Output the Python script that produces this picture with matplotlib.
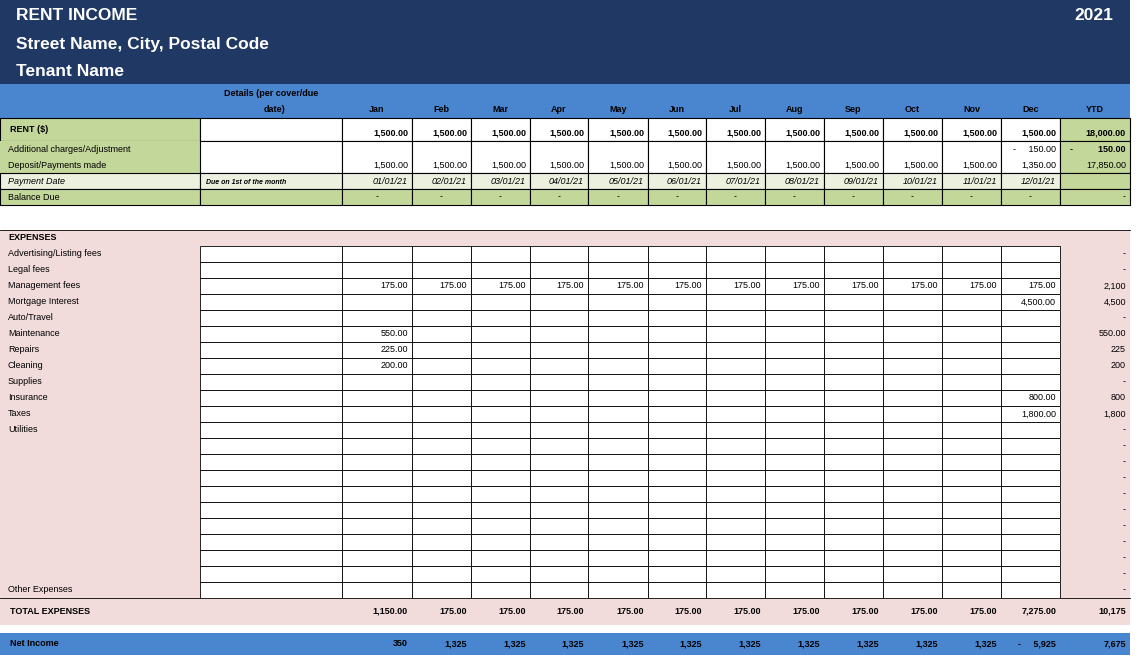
import matplotlib.pyplot as plt
from matplotlib.patches import Rectangle

plt.rcParams['font.family'] = ['Liberation Sans', 'DejaVu Sans']

months = ['Jan', 'Feb', 'Mar', 'Apr', 'May', 'Jun', 'Jul', 'Aug', 'Sep', 'Oct', 'Nov', 'Dec']
rent = ['1,500.00'] * 12
rent_ytd = '18,000.00'
adjust = [''] * 11 + ['-     150.00']
adjust_ytd = '-          150.00'
payments = ['1,500.00'] * 11 + ['1,350.00']
payments_ytd = '17,850.00'
pay_dates = ['%02d/01/21' % (i + 1) for i in range(12)]

exp_labels = ['Advertising/Listing fees', 'Legal fees', 'Management fees', 'Mortgage Interest',
              'Auto/Travel', 'Maintenance', 'Repairs', 'Cleaning', 'Supplies', 'Insurance',
              'Taxes', 'Utilities'] + [''] * 9 + ['Other Expenses']
# values per expense row: (month index, text)
exp_values = {
    'Management fees': {i: '175.00' for i in range(12)},
    'Mortgage Interest': {11: '4,500.00'},
    'Maintenance': {0: '550.00'},
    'Repairs': {0: '225.00'},
    'Cleaning': {0: '200.00'},
    'Insurance': {11: '800.00'},
    'Taxes': {11: '1,800.00'},
}
exp_ytd = ['-', '-', '2,100', '4,500', '-', '550.00', '225', '200', '-', '800', '1,800'] + ['-'] * 11
total_exp = ['1,150.00'] + ['175.00'] * 10 + ['7,275.00']
total_ytd = '10,175'
net_income = ['350'] + ['1,325'] * 10 + ['-     5,925']
net_ytd = '7,675'

NAVY = '#1f3864'
BLUE = '#4a86d0'
GREEN = '#c4d79b'
LGREEN = '#ebf1de'
PINK = '#f2dcdb'

edges = [0, 200, 342, 412, 471, 530, 588, 648, 706, 765, 824, 883, 942, 1001, 1060, 1130]

fig = plt.figure(figsize=(11.4, 6.57), dpi=100)
ax = fig.add_axes([0, 0, 1, 1])
ax.set_xlim(0, 1140)
ax.set_ylim(657, 0)
ax.axis('off')


def box(x0, x1, y0, y1, fc, ec='none', lw=0.8):
    ax.add_patch(Rectangle((x0, y0), x1 - x0, y1 - y0, facecolor=fc, edgecolor=ec, lw=lw))


def rtext(col, y, s, **kw):
    # col 1..12 = months, 13 = YTD
    ax.text(edges[col + 2] - 4, y, s, ha='right', va='center', fontsize=6.5, **kw)


# title block
box(0, 1130, 0, 84, NAVY)
for y, s in zip([16, 44, 72], ['RENT INCOME', 'Street Name, City, Postal Code', 'Tenant Name']):
    ax.text(16, y, s, color='white', fontsize=12.5, fontweight='bold', va='center')
ax.text(1113, 16, '2021', color='white', fontsize=12.5, fontweight='bold', va='center', ha='right')

# month header
box(0, 1130, 84, 118, BLUE)
ax.text(271, 93, 'Details (per cover/due', fontsize=6.5, fontweight='bold', ha='center', va='center')
ax.text(285, 109, 'date)', fontsize=6.5, fontweight='bold', ha='right', va='center')
for i, m in enumerate(months + ['YTD']):
    ax.text((edges[i + 2] + edges[i + 3]) / 2, 110, m, fontsize=6.5, fontweight='bold',
            ha='center', va='center')

# rent section
box(0, 200, 118, 141, GREEN, 'black')
box(0, 200, 141, 173, GREEN)
box(0, 200, 173, 189, LGREEN, 'black')
box(0, 200, 189, 205, GREEN, 'black')
box(200, 342, 118, 141, 'white', 'black')
box(200, 342, 141, 173, 'white', 'black')
box(200, 342, 173, 189, LGREEN, 'black')
box(200, 342, 189, 205, GREEN, 'black')
for c in range(13):
    x0, x1 = edges[c + 2], edges[c + 3]
    ytd = c == 12
    box(x0, x1, 118, 141, GREEN if ytd else 'white', 'black')
    box(x0, x1, 141, 173, GREEN if ytd else 'white', 'black')
    box(x0, x1, 173, 189, GREEN if ytd else LGREEN, 'black')
    box(x0, x1, 189, 205, GREEN, 'black')
ax.text(10, 130, 'RENT ($)', fontsize=6.5, fontweight='bold', va='center')
ax.text(8, 149, 'Additional charges/Adjustment', fontsize=6.5, va='center')
ax.text(8, 165, 'Deposit/Payments made', fontsize=6.5, va='center')
ax.text(8, 182, 'Payment Date', fontsize=6.5, style='italic', va='center')
ax.text(8, 197, 'Balance Due', fontsize=6.5, va='center')
ax.text(206, 182, 'Due on 1st of the month', fontsize=5, style='italic', fontweight='bold', va='center')
for i in range(12):
    rtext(i + 1, 133, rent[i], fontweight='bold')
    rtext(i + 1, 149, adjust[i])
    rtext(i + 1, 165, payments[i])
    rtext(i + 1, 182, pay_dates[i], style='italic')
    ax.text((edges[i + 2] + edges[i + 3]) / 2, 197, '-', fontsize=6.5, ha='center', va='center')
rtext(13, 133, rent_ytd, fontweight='bold')
rtext(13, 149, adjust_ytd, fontweight='bold')
rtext(13, 165, payments_ytd)
rtext(13, 197, '-')

# expenses section
box(0, 1130, 230, 246, PINK)
ax.plot([0, 1130], [230, 230], color='black', lw=0.6)
ax.text(8, 238, 'EXPENSES', fontsize=6.5, fontweight='bold', va='center')
for r, lab in enumerate(exp_labels):
    y0 = 246 + 16 * r
    box(0, 200, y0, y0 + 16, PINK)
    box(1060, 1130, y0, y0 + 16, PINK)
    for c in range(1, 14):
        box(edges[c], edges[c + 1], y0, y0 + 16, 'white', 'black', 0.6)
    ax.text(8, y0 + 8, lab, fontsize=6.5, va='center')
    for mi, s in exp_values.get(lab, {}).items():
        rtext(mi + 1, y0 + 8, s)
    rtext(13, y0 + 8, exp_ytd[r])
ax.plot([0, 1130], [598, 598], color='black', lw=0.6)

box(0, 1130, 598, 625, PINK)
ax.text(10, 611, 'TOTAL EXPENSES', fontsize=6.5, fontweight='bold', va='center')
for i in range(12):
    rtext(i + 1, 611, total_exp[i], fontweight='bold')
rtext(13, 611, total_ytd, fontweight='bold')

box(0, 1130, 633, 655, BLUE)
ax.text(10, 644, 'Net Income', fontsize=6.5, fontweight='bold', va='center')
for i in range(12):
    rtext(i + 1, 644, net_income[i], fontweight='bold')
rtext(13, 644, net_ytd, fontweight='bold')

fig.savefig('out.png', dpi=100)
